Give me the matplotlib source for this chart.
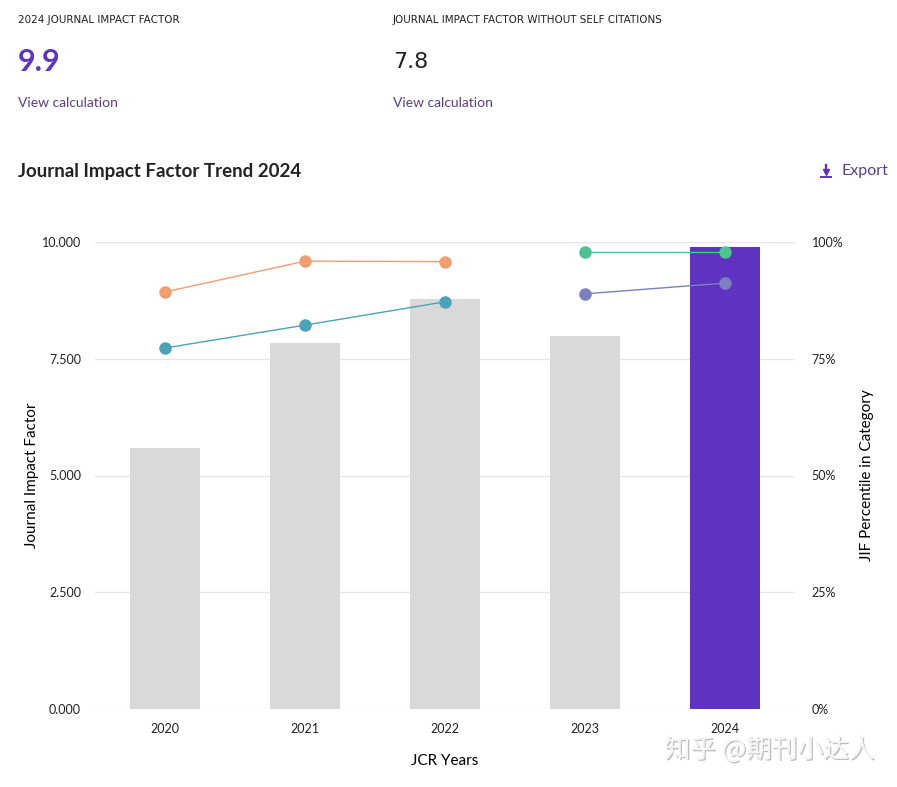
import numpy as np
import matplotlib.pyplot as plt
import matplotlib.patheffects as pe

# data
years = ['2020', '2021', '2022', '2023', '2024']
jif = [5.59, 7.84, 8.78, 7.99, 9.89]
bar_colors = ['#d9d9d9', '#d9d9d9', '#d9d9d9', '#d9d9d9', '#5e33bf']

# percentile series (two categories, before/after 2023)
pct_a = [89.3, 95.9, 95.8, None, None]   # orange
pct_b = [77.3, 82.2, 87.2, None, None]   # teal
pct_c = [None, None, None, 97.9, 97.9]   # green
pct_d = [None, None, None, 88.9, 91.2]   # slate

jif_2024 = '9.9'
jif_no_self = '7.8'

plt.rcParams['font.family'] = ['Lato', 'DejaVu Sans']

fig = plt.figure(figsize=(8.97, 7.87), dpi=100)
ax = fig.add_axes([95/897, 1-709/787, 700/897, 467/787])
x = np.arange(len(years))

ax.bar(x, jif, width=0.5, color=bar_colors, zorder=2)
ax.set_xlim(-0.5, 4.5)
ax.set_ylim(0, 10)
ax.set_yticks([0, 2.5, 5, 7.5, 10])
ax.set_yticklabels(['%.3f' % v for v in [0, 2.5, 5, 7.5, 10]], fontsize=9)
ax.set_xticks(x)
ax.set_xticklabels(years, fontsize=9)
ax.grid(axis='y', color='#e6e6e6', linewidth=1, zorder=0)
ax.set_axisbelow(True)
for s in ax.spines.values():
    s.set_visible(False)
ax.tick_params(length=0, pad=10, colors='#222222')
ax.set_xlabel('JCR Years', fontsize=11, labelpad=14)
ax.set_ylabel('Journal Impact Factor', fontsize=11, labelpad=2)

ax2 = ax.twinx()
ax2.set_ylim(0, 100)
ax2.set_yticks([0, 25, 50, 75, 100])
ax2.set_yticklabels(['%d%%' % v for v in [0, 25, 50, 75, 100]], fontsize=9)
for s in ax2.spines.values():
    s.set_visible(False)
ax2.tick_params(length=0, pad=12, colors='#222222')
ax2.set_ylabel('JIF Percentile in Category', fontsize=11, labelpad=12)


def series(vals, color, alpha=1.0):
    xs = [i for i, v in enumerate(vals) if v is not None]
    ys = [v for v in vals if v is not None]
    ax2.plot(xs, ys, color=color, linewidth=1, marker='o', markersize=8,
             alpha=alpha, zorder=3)


series(pct_a, '#f0a070')
series(pct_b, '#4ba3b8')
series(pct_c, '#4cc490')
series(pct_d, '#7b80bf')

# header
purple = '#5e33bf'
fig.text(18/897, 1-20/787, '2024 JOURNAL IMPACT FACTOR', fontsize=7.5,
         family='DejaVu Sans', va='center', color='#222222')
fig.text(18/897, 1-62/787, jif_2024, fontsize=22, fontweight='bold',
         va='center', color=purple)
fig.text(18/897, 1-103/787, 'View calculation', fontsize=10, va='center',
         color='#5a3d8f')
fig.text(393/897, 1-20/787, 'JOURNAL IMPACT FACTOR WITHOUT SELF CITATIONS',
         fontsize=7.5, family='DejaVu Sans', va='center', color='#222222')
fig.text(393/897, 1-62/787, jif_no_self, fontsize=16, va='center',
         family='DejaVu Sans', color='#222222')
fig.text(393/897, 1-103/787, 'View calculation', fontsize=10, va='center',
         color='#5a3d8f')

fig.text(18/897, 1-171/787, 'Journal Impact Factor Trend 2024', fontsize=13.5,
         fontweight='bold', va='center', color='#222222')
fig.text(888/897, 1-171/787, 'Export', fontsize=11.5, ha='right', va='center',
         color='#5a3d8f')
# download icon drawn as a shape
fig.add_artist(plt.Line2D([826/897, 826/897], [1-165/787, 1-172/787],
                          color=purple, linewidth=1.6))
fig.add_artist(plt.Line2D([826/897], [1-172/787], marker='v', markersize=5,
                          color=purple, linestyle='none'))
fig.add_artist(plt.Line2D([821/897, 831/897], [1-177/787, 1-177/787],
                          color=purple, linewidth=1.4))

# watermark
fig.text(875/897, 1-750/787, '知乎 @期刊小达人', fontsize=18.5, ha='right',
         va='center', family=['Noto Sans CJK SC', 'DejaVu Sans'], color='#f6f6f6',
         path_effects=[pe.withSimplePatchShadow(offset=(1, -1), shadow_rgbFace='#b0b0b0', alpha=0.8),
                       pe.Normal()])

fig.savefig('out.png', dpi=100, facecolor='white')
